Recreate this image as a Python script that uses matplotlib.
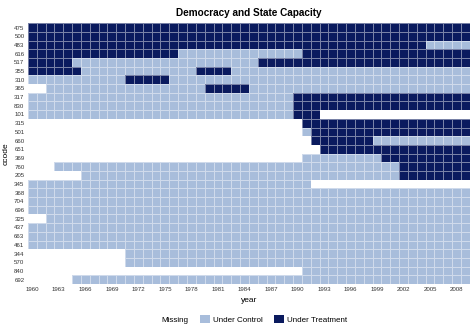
import numpy as np
import matplotlib.pyplot as plt
from matplotlib.colors import ListedColormap
from matplotlib.patches import Patch

plt.rcParams['font.family'] = ['Liberation Sans', 'DejaVu Sans']

# treatment status plot: 0 = missing, 1 = under control, 2 = under treatment
years = list(range(1960, 2010))
ccodes = ['475', '500', '483', '616', '517', '355', '310', '365', '317', '830',
          '101', '315', '501', '660', '651', '369', '760', '205', '345', '368',
          '704', '696', '325', '437', '663', '461', '344', '570', '840', '692']

# runs of (first year, last year, status) for each unit, top to bottom
runs = [
    [(1960, 2009, 2)],
    [(1960, 2009, 2)],
    [(1960, 2004, 2), (2005, 2009, 1)],
    [(1960, 1976, 2), (1977, 1990, 1), (1991, 2009, 2)],
    [(1960, 1964, 2), (1965, 1985, 1), (1986, 2009, 2)],
    [(1960, 1965, 2), (1966, 1978, 1), (1979, 1982, 2), (1983, 2009, 1)],
    [(1960, 1970, 1), (1971, 1975, 2), (1976, 2009, 1)],
    [(1960, 1961, 0), (1962, 1979, 1), (1980, 1984, 2), (1985, 2009, 1)],
    [(1960, 1989, 1), (1990, 2009, 2)],
    [(1960, 1989, 1), (1990, 2009, 2)],
    [(1960, 1989, 1), (1990, 1992, 2), (1993, 2009, 0)],
    [(1960, 1990, 0), (1991, 2009, 2)],
    [(1960, 1990, 0), (1991, 1991, 1), (1992, 2009, 2)],
    [(1960, 1991, 0), (1992, 1998, 2), (1999, 2009, 1)],
    [(1960, 1992, 0), (1993, 2009, 2)],
    [(1960, 1990, 0), (1991, 1999, 1), (2000, 2009, 2)],
    [(1960, 1962, 0), (1963, 2001, 1), (2002, 2009, 2)],
    [(1960, 1965, 0), (1966, 2001, 1), (2002, 2009, 2)],
    [(1960, 1991, 1), (1992, 2009, 0)],
    [(1960, 2009, 1)],
    [(1960, 2009, 1)],
    [(1960, 2009, 1)],
    [(1960, 1961, 0), (1962, 2009, 1)],
    [(1960, 2009, 1)],
    [(1960, 2009, 1)],
    [(1960, 2009, 1)],
    [(1960, 1970, 0), (1971, 2009, 1)],
    [(1960, 1970, 0), (1971, 2009, 1)],
    [(1960, 1990, 0), (1991, 2009, 1)],
    [(1960, 1964, 0), (1965, 2009, 1)],
]

status = np.zeros((len(ccodes), len(years)))
for i, unit in enumerate(runs):
    for a, b, s in unit:
        status[i, a - 1960:b - 1960 + 1] = s

col_missing = '#FFFFFF'
col_control = '#A8BDDB'
col_treat = '#0A1A5E'
cmap = ListedColormap([col_missing, col_control, col_treat])

fig = plt.figure(figsize=(4.74, 3.31), dpi=100)
ax = fig.add_axes([0.059, 0.142, 0.932, 0.788])

xe = np.arange(years[0] - 0.5, years[-1] + 1.5)
ye = np.arange(len(ccodes) + 1) - 0.5
ax.pcolormesh(xe, ye, status, cmap=cmap, vmin=-0.5, vmax=2.5,
              edgecolors=(1, 1, 1, 0.45), linewidth=0.4)
ax.set_xlim(xe[0], xe[-1])
ax.set_ylim(ye[-1], ye[0])

ax.set_xticks(range(1960, 2010, 3))
ax.set_yticks(range(len(ccodes)))
ax.set_yticklabels(ccodes)
ax.tick_params(length=0, labelsize=4.4, colors='#333333', pad=2.5)
for s in ax.spines.values():
    s.set_visible(False)

ax.set_xlabel('year', fontsize=6, labelpad=3)
ax.set_ylabel('ccode', fontsize=6, labelpad=3)
ax.set_title('Democracy and State Capacity', fontsize=7.2, fontweight='bold', pad=5)

handles = [Patch(facecolor=col_missing, edgecolor='none', label='Missing'),
           Patch(facecolor=col_control, edgecolor='none', label='Under Control'),
           Patch(facecolor=col_treat, edgecolor='none', label='Under Treatment')]
fig.legend(handles=handles, loc='center', bbox_to_anchor=(0.523, 0.036), ncol=3,
           frameon=False, fontsize=5.8, handlelength=1.2, handleheight=1.2,
           handletextpad=0.4, columnspacing=1.4)

fig.savefig('out.png', dpi=100)
